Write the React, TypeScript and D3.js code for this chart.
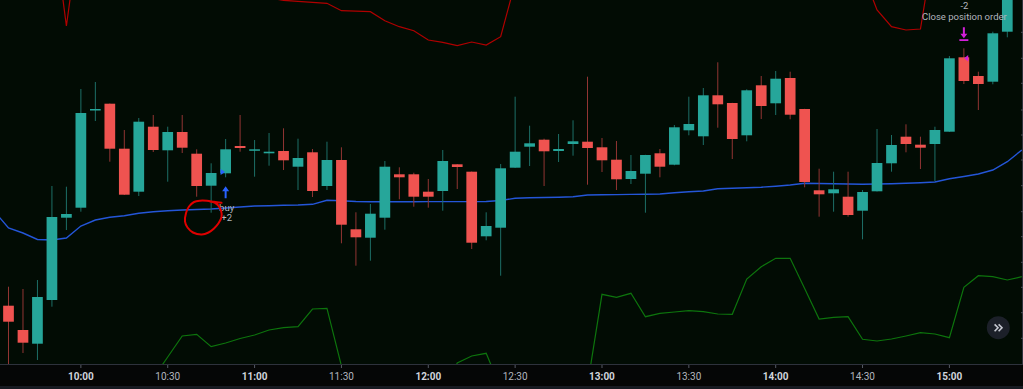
import React from "react";
import * as d3 from "d3";

// ---------- data ----------
const candleTimes = [
  "09:35","09:40","09:45","09:50","09:55","10:00","10:05","10:10","10:15","10:20","10:25","10:30",
  "10:35","10:40","10:45","10:50","10:55","11:00","11:05","11:10","11:15","11:20","11:25","11:30",
  "11:35","11:40","11:45","11:50","11:55","12:00","12:05","12:10","12:15","12:20","12:25","12:30",
  "12:35","12:40","12:45","12:50","12:55","13:00","13:05","13:10","13:15","13:20","13:25","13:30",
  "13:35","13:40","13:45","13:50","13:55","14:00","14:05","14:10","14:15","14:20","14:25","14:30",
  "14:35","14:40","14:45","14:50","14:55","15:00","15:05","15:10","15:15","15:20",
];
const opens = [
  94.3,70,56.3,100,182.3,192.3,290.5,296.3,251.3,208.3,273.3,249.7,
  268,246.3,214.3,226.7,254,249.3,246.7,249,233.3,247.7,214,240,
  170.7,162.3,182.3,225.7,225.7,208.3,209,235.7,228.3,163.7,172.3,232.3,
  253.3,260.3,249,256,258.3,252.7,240.3,221,226.3,246.7,235.3,269.7,
  263.7,304.7,297,264.7,314.7,296.7,322,291,209.7,206.7,203.3,189.3,
  208.7,236.7,263.3,255.3,256,268.3,342.7,324,318.3,368.3,
];
const highs = [
  113.3,111,120,214,213.3,311,318,296.5,270,282,285,273.3,
  285,250.7,236.7,261,285,260,267,271.7,261.3,251,258.3,252.7,
  187.7,196,239,232.7,227.3,221,250,235.9,228.5,187.7,236,303.3,
  274.3,261.3,266,279.7,323.3,262,259,245,245.2,251,275,303.3,
  312,337.7,297.2,310.7,324,329,328.3,291.2,231.3,228.3,228.3,210,
  271,265,275.7,263.3,273.3,344,351.7,328.3,368.3,425,
];
const lows = [
  35,47,40,93.3,170,188.3,279,238.3,205,204,248,218.3,
  247,203.3,187.3,222.7,248.3,223.3,234.3,230,210,203,210,156.7,
  134.3,139.3,170.3,200.7,193.3,192.3,189.3,211,151,159.7,124.3,232.1,
  234,214,238,244.3,215.3,228,210,216,187.3,222.7,234.7,264.7,
  255,272.3,241,258.7,281,285,280.7,212.7,183.3,188.3,183.3,160.7,
  208.5,228.3,247.7,231,219,268.1,316,290,315.7,362.7,
];
const closes = [
  78.3,57.3,103,183,186,287,291,251.3,205.3,278.3,250,268,
  252.3,214,227,250.7,252,250.7,248.3,239.7,242,209,240,175.3,
  162.7,186.3,233.3,222.7,203.3,203.3,239,233,157.3,174,231.7,248.3,
  256.7,248.7,251,258.7,252,239.7,220.7,229,245,233.3,272.7,276,
  304.7,295.7,261,309.7,294,321.3,285.3,218,205.7,210.7,185,208,
  237,255,256,252.3,270,341.7,319,316,366.7,420,
];

// indicator values, one per bar from 09:30 to 15:25
const lineTimes = ["09:30", ...candleTimes, "15:25"];
const midLine = [
  189,172,167,160.5,160,162,174,180,182.7,184.3,186.7,188.3,
  189.3,190,190.5,191,192,193,194,194.3,194.7,195,195.7,199.7,
  199.2,198.5,198.3,198.3,198.3,198.3,198.4,198.4,198.4,198.4,198.5,199.5,
  201.7,202.2,202.5,202.8,203.3,205,205.2,205.4,205.6,205.8,206,207.3,
  208.2,209,211.3,211.8,212.3,212.8,213.8,215,216.7,216.5,216.3,216,
  215.7,216,216.3,216.7,217.3,218,221.3,223.5,226,230,238.3,250,
];
const lowerBand = [
  2,2,2,2,2,2,2,2,2,2,2,22,
  43,64,65.7,53.3,57,61.5,65,70,72.3,73.3,91,91.7,
  34,5,5,5,5,5,5,5,37,44,46.7,12,
  5,5,5,5,5,15,105.7,102.7,106.7,83.3,86.7,88,
  89.3,88.3,86,85.7,121,133.3,141.7,141.7,111.5,81,82.7,83.3,
  60.7,59,61,64,67.3,66,62.3,112.7,124.3,123.3,120,123.3,
];
const upperBand = [
  500,500,500,500,485,374,480,500,500,500,500,500,
  500,500,500,500,500,500,408,402,399.7,398.7,397.7,396.7,
  389.3,388.8,388.3,379.3,373.3,369.3,360,357.7,354.3,358,355,363.3,
  417,500,500,500,500,500,500,500,500,500,500,500,
  500,500,500,500,500,500,500,500,500,500,500,500,
  428,390,373.3,370,371,460,500,500,500,500,500,500,
];

const priceTicks = [367.7,341.7,316.7,290,265,240,214.3,188.3,163.3,137.7,112.7,87.3,61.7];

// trade markers
const buyTime = "10:50";
const buyPrice = 228;
const buyLabels = ["buy", "+2"];
const closeTime = "15:05";
const closePrice = 341.7;
const closeLabels = ["-2", "Close position order"];

// hand-drawn circle (minutes after 09:35, price)
const circleMinutes = [73.58,70.99,68.57,66.15,64.08,62.35,61.32,60.97,61.83,63.73,66.74,69.09,70.99,72.54,73.58,73.41,72.47,71.16,69.61];
const circlePrices = [197.2,198.2,199.2,199.3,198,193.5,187,178.3,172.5,167.5,165.5,167.5,171.5,176.7,183,189.5,194.5,197.5,198.5];

// ---------- layout ----------
const W = 1023;
const H = 389;
const PLOT_R = 1022;
const PLOT_B = 364;

const C = {
  bg: "#020c04",
  axisBg: "#050606",
  strip: "#171a21",
  up: "#26a69a",
  down: "#ef5350",
  upWick: "#1d6f67",
  downWick: "#923533",
  blue: "#2456d8",
  red: "#b00000",
  green: "#0d740d",
  grid: "#2e323c",
  text: "#b2b5be",
};

const parse = d3.timeParse("%H:%M");

export default function App() {
  const x = d3
    .scaleTime()
    .domain([parse("09:35")!, parse("15:20")!])
    .range([8.5, 1007.3]);
  const y = d3.scaleLinear().domain([400, 36]).range([0, PLOT_B]);
  const step = x(parse("09:40")!) - x(parse("09:35")!);
  const bodyW = step * 0.74;

  const lineGen = d3
    .line<number>()
    .x((_, i) => x(parse(lineTimes[i])!))
    .y((d) => y(d));

  const base = parse("09:35")!.getTime();
  const circlePath = d3
    .line<number>()
    .x((m) => x(new Date(base + m * 60000)))
    .y((_, i) => y(circlePrices[i]))
    .curve(d3.curveCatmullRom)(circleMinutes);

  const ticks = x.ticks(d3.timeMinute.every(30)!);
  const fmt = d3.timeFormat("%H:%M");

  const bx = x(parse(buyTime)!);
  const bi = candleTimes.indexOf(buyTime);
  const buyTop = y(lows[bi]) + 9;
  const by = y(buyPrice);

  const cx = x(parse(closeTime)!);
  const ci = candleTimes.indexOf(closeTime);
  const closeBottom = y(highs[ci]) - 7.5;
  const cy = y(closePrice);

  return (
    <svg
      width={W}
      height={H}
      style={{ position: "absolute", left: 0, top: 0, display: "block" }}
      fontFamily="Roboto, 'Noto Sans', sans-serif"
    >
      <defs>
        <clipPath id="plot">
          <rect x={0} y={0} width={PLOT_R} height={PLOT_B} />
        </clipPath>
      </defs>
      <rect x={0} y={0} width={W} height={H} fill={C.axisBg} />
      <rect x={0} y={0} width={PLOT_R} height={PLOT_B} fill={C.bg} />
      <rect x={0} y={386} width={W} height={3} fill={C.strip} />

      <g clipPath="url(#plot)">
        <path d={lineGen(upperBand)!} fill="none" stroke={C.red} strokeWidth={1.2} />
        <path d={lineGen(lowerBand)!} fill="none" stroke={C.green} strokeWidth={1.2} />
        <path d={lineGen(midLine)!} fill="none" stroke={C.blue} strokeWidth={1.4} />

        {candleTimes.map((t, i) => {
          const cxp = x(parse(t)!);
          const isUp = closes[i] >= opens[i];
          const top = y(Math.max(opens[i], closes[i]));
          const bot = y(Math.min(opens[i], closes[i]));
          const h = Math.max(1.5, bot - top);
          return (
            <g key={t}>
              <line
                x1={cxp}
                x2={cxp}
                y1={y(highs[i])}
                y2={y(lows[i])}
                stroke={isUp ? C.upWick : C.downWick}
                strokeWidth={1}
              />
              <rect
                x={cxp - bodyW / 2}
                y={top}
                width={bodyW}
                height={h}
                fill={isUp ? C.up : C.down}
              />
            </g>
          );
        })}

        {/* buy marker */}
        <path
          d={`M${bx - 5},${by - 3} L${bx - 0.7},${by} L${bx - 5},${by + 3} Z`}
          fill="#2962ff"
        />
        <path
          d={`M${bx},${buyTop} L${bx + 3.5},${buyTop + 5} L${bx + 1},${buyTop + 5} L${bx + 1},${buyTop + 12} L${bx - 1},${buyTop + 12} L${bx - 1},${buyTop + 5} L${bx - 3.5},${buyTop + 5} Z`}
          fill="#2962ff"
        />
        <text x={bx + 1} y={buyTop + 21} textAnchor="middle" dominantBaseline="central" fontSize={9.5} fill={C.text}>
          {buyLabels[0]}
        </text>
        <text x={bx + 1} y={buyTop + 31.5} textAnchor="middle" dominantBaseline="central" fontSize={9.5} fill={C.text}>
          {buyLabels[1]}
        </text>

        {/* close marker */}
        <path
          d={`M${cx + 4.3},${cy - 3.3} L${cx + 0.3},${cy} L${cx + 4.3},${cy + 3.3} Z`}
          fill="#d41fd9"
        />
        <path
          d={`M${cx},${closeBottom - 2.5} L${cx + 3.5},${closeBottom - 7} L${cx + 1},${closeBottom - 7} L${cx + 1},${closeBottom - 13.5} L${cx - 1},${closeBottom - 13.5} L${cx - 1},${closeBottom - 7} L${cx - 3.5},${closeBottom - 7} Z`}
          fill="#d41fd9"
        />
        <rect x={cx - 4.5} y={closeBottom - 1.6} width={9} height={1.8} fill="#d41fd9" />
        <text x={cx + 0.5} y={closeBottom - 35} textAnchor="middle" dominantBaseline="central" fontSize={9.5} fill={C.text}>
          {closeLabels[0]}
        </text>
        <text x={cx + 0.5} y={closeBottom - 24.5} textAnchor="middle" dominantBaseline="central" fontSize={9.5} fill={C.text}>
          {closeLabels[1]}
        </text>

        {/* hand-drawn circle */}
        <path d={circlePath!} fill="none" stroke="#e00000" strokeWidth={2} strokeLinecap="round" />
      </g>

      {/* right price-scale border */}
      <line x1={1022.5} x2={1022.5} y1={0} y2={PLOT_B} stroke={C.grid} strokeWidth={1} />
      {priceTicks.map((p) => (
        <line key={p} x1={1021} x2={1023} y1={y(p)} y2={y(p)} stroke="#4a4e58" strokeWidth={1} />
      ))}

      {/* time axis */}
      <line x1={0} x2={W} y1={PLOT_B + 0.5} y2={PLOT_B + 0.5} stroke={C.grid} strokeWidth={1} />
      {ticks.map((t) => {
        const tx = x(t);
        const hour = t.getMinutes() === 0;
        return (
          <g key={+t}>
            <line x1={tx} x2={tx} y1={PLOT_B + 1} y2={PLOT_B + 4} stroke="#555a64" strokeWidth={1} />
            <text
              x={tx}
              y={376}
              textAnchor="middle"
              dominantBaseline="central"
              fontSize={10}
              fontWeight={hour ? 700 : 400}
              fill={hour ? "#d1d4dc" : C.text}
            >
              {fmt(t)}
            </text>
          </g>
        );
      })}

      {/* scroll button */}
      <circle cx={998.3} cy={327.7} r={11.5} fill="#1c2029" />
      <path d="M994.6,324.4 L998,327.8 L994.6,331.2 M998.6,324.4 L1002,327.8 L998.6,331.2" fill="none" stroke="#c5c8d0" strokeWidth={1.6} />
    </svg>
  );
}
